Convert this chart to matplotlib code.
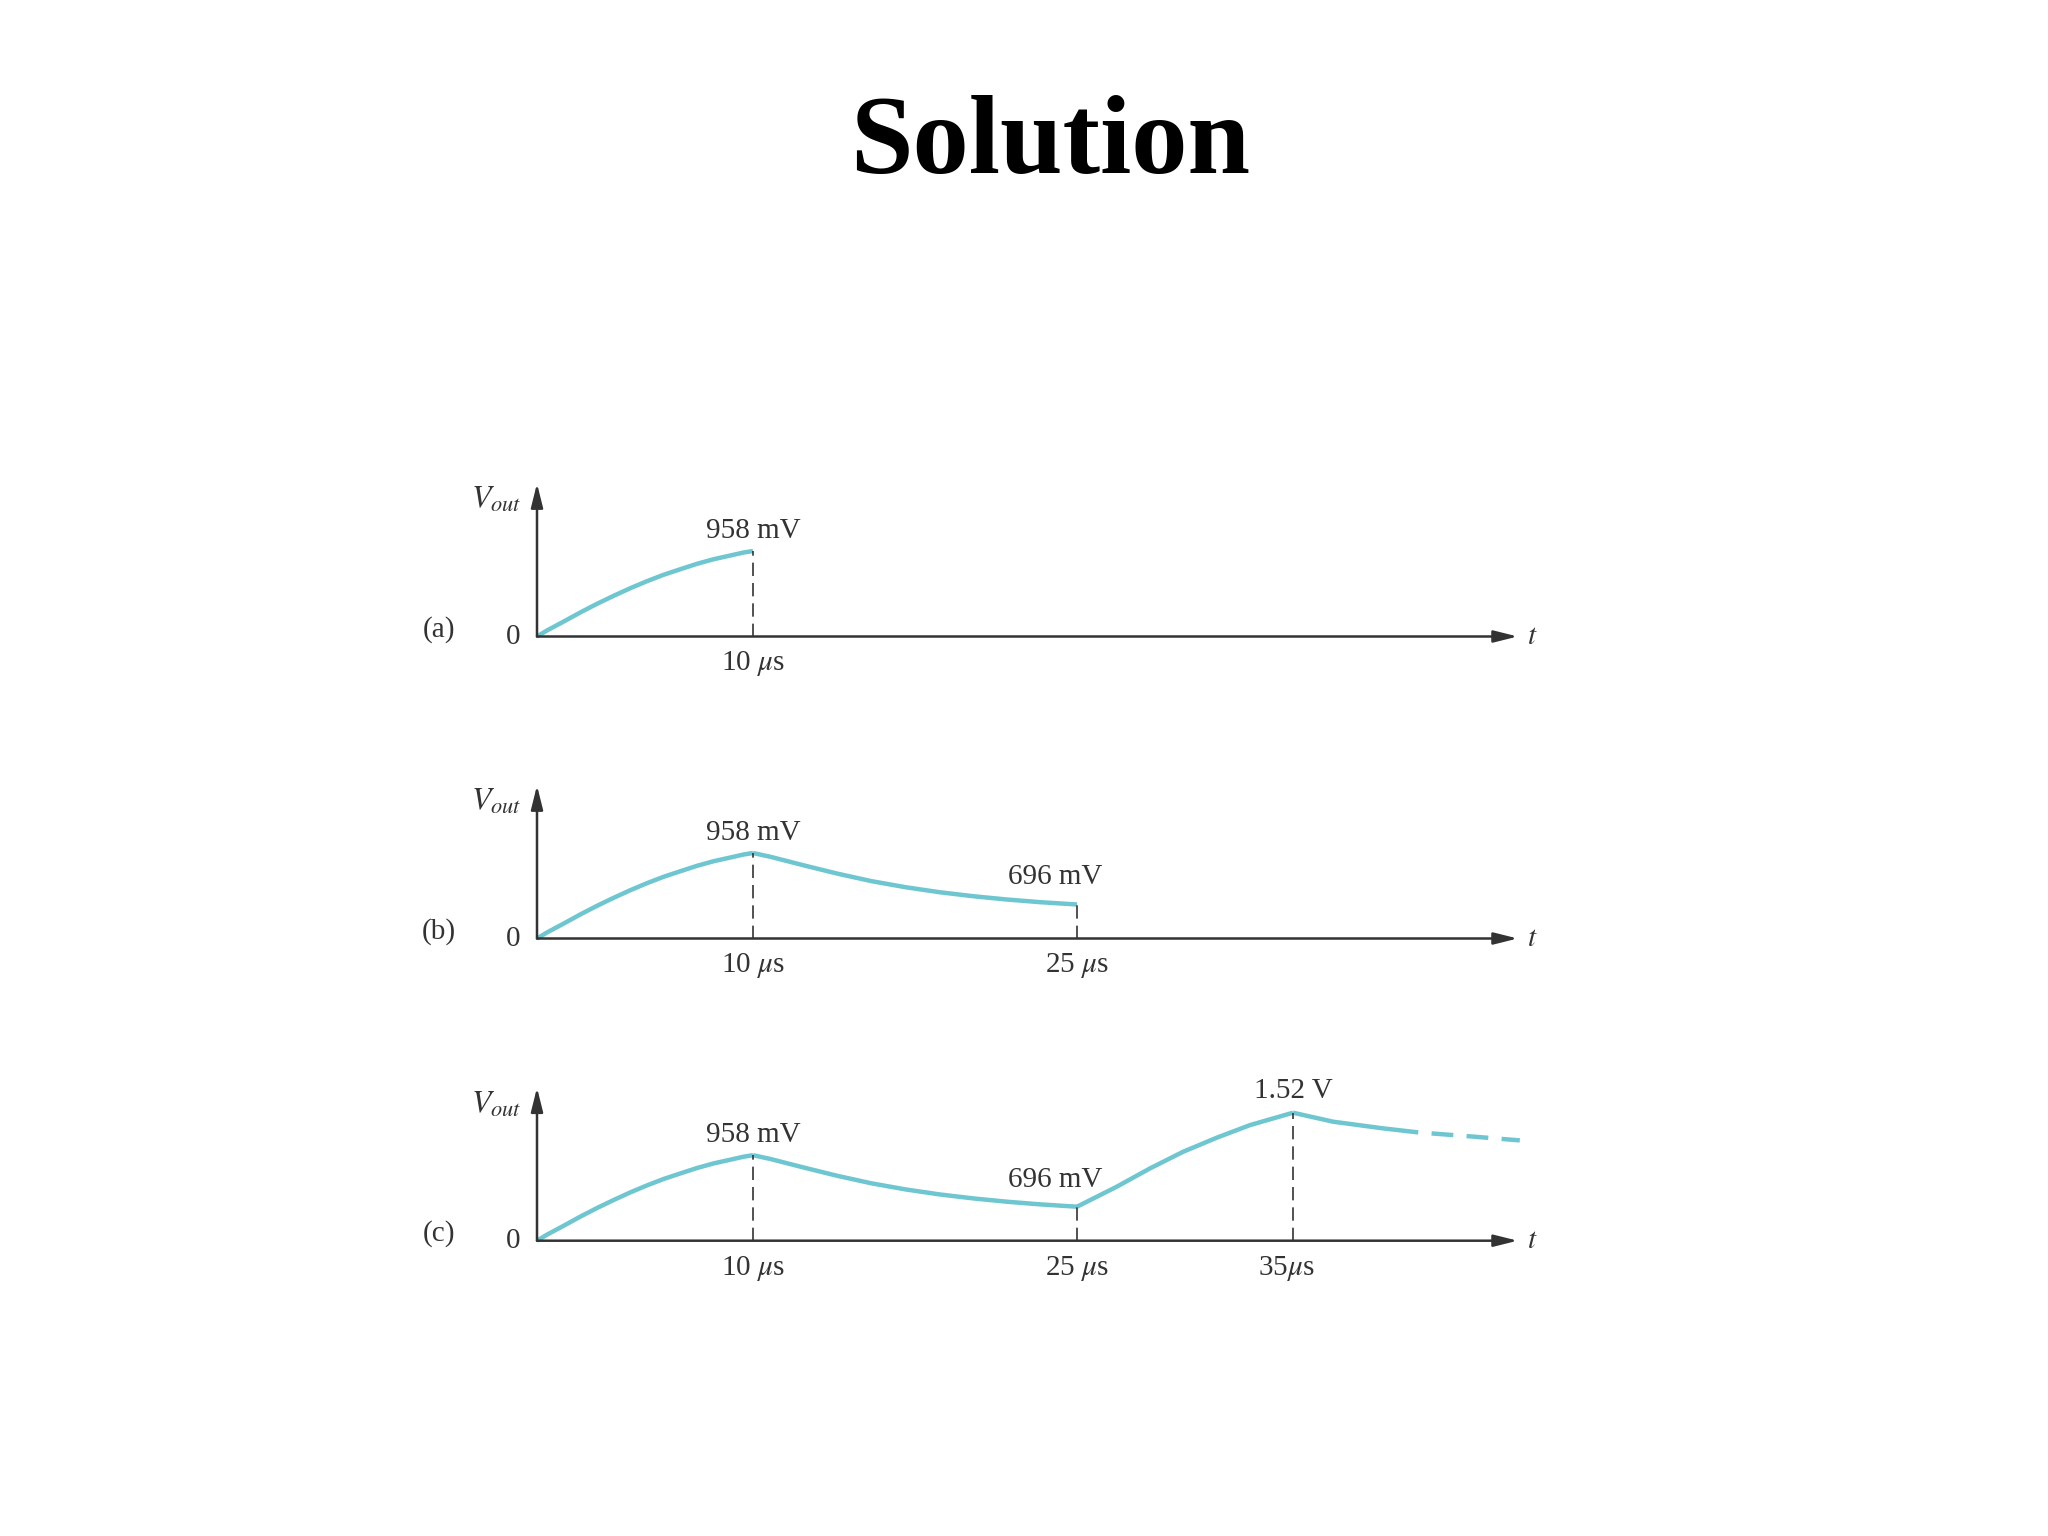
import matplotlib
matplotlib.use("Agg")
import matplotlib.pyplot as plt

plt.rcParams['font.family'] = ['Liberation Serif', 'DejaVu Serif']
plt.rcParams['mathtext.fontset'] = 'stix'

# curve (time in us, height on the sketch's own scale)
t_rise1 = [0, 0.46, 1.24, 2.0, 2.78, 3.55, 4.32, 5.09, 5.86, 6.64, 7.41, 8.18, 8.95, 9.57, 10]
v_rise1 = [0, 0.06, 0.15, 0.24, 0.327, 0.407, 0.483, 0.553, 0.617, 0.673, 0.727, 0.773, 0.81, 0.84, 0.855]
t_fall1 = [10, 10.81, 12.38, 13.94, 15.5, 17.06, 18.63, 20.19, 21.75, 23.31, 25]
v_fall1 = [0.855, 0.817, 0.73, 0.647, 0.573, 0.513, 0.463, 0.423, 0.39, 0.363, 0.34]
t_rise2 = [25, 26.84, 28.38, 29.92, 31.47, 33.01, 35]
v_rise2 = [0.34, 0.54, 0.723, 0.89, 1.03, 1.156, 1.28]
t_fall2 = [35, 36.86, 39.18, 40.8]
v_fall2 = [1.28, 1.19, 1.123, 1.083]
t_tail = [40.8, 43.4, 45.5]
v_tail = [1.083, 1.04, 1.003]

marks_t = [10, 25, 35]
marks_v = [0.855, 0.34, 1.28]
mark_labels = ['958 mV', '696 mV', '1.52 V']
tick_labels = ['10 $\\mu$s', '25 $\\mu$s', '35$\\mu$s']
panel_names = ['(a)', '(b)', '(c)']
panel_marks = [1, 2, 3]          # how many breakpoints each panel shows
baselines = [636.5, 938.5, 1240.7]  # px from top

teal = '#6ec6d0'
dark = '#333333'
W, H = 2048, 1536
x0, xs = 537, 21.6   # px of t=0, px per us
fs = 21

fig = plt.figure(figsize=(20.48, 15.36), dpi=100)
fig.text(1050 / W, 1 - 173 / H, 'Solution', ha='center', va='baseline',
         fontsize=81, fontweight='bold', color='black')

for k in range(3):
    base = baselines[k]
    ax = fig.add_axes([400 / W, (H - (base + 70)) / H, 1200 / W, 260 / H])
    ax.set_xlim((400 - x0) / xs, (1600 - x0) / xs)
    ax.set_ylim(-0.7, 1.9)
    ax.axis('off')

    # axes with arrows
    ax.annotate('', xy=(45.4, 0), xytext=(0, 0),
                arrowprops=dict(arrowstyle='-|>,head_length=0.8,head_width=0.2',
                                color=dark, lw=1.8, mutation_scale=18,
                                shrinkA=0, shrinkB=0))
    ax.annotate('', xy=(0, 1.53), xytext=(0, 0),
                arrowprops=dict(arrowstyle='-|>,head_length=0.8,head_width=0.2',
                                color=dark, lw=1.8, mutation_scale=18,
                                shrinkA=0, shrinkB=0))

    n = panel_marks[k]
    ax.plot(t_rise1, v_rise1, color=teal, lw=3.2, solid_capstyle='butt')
    if n >= 2:
        ax.plot(t_fall1, v_fall1, color=teal, lw=3.2, solid_capstyle='butt')
    if n >= 3:
        ax.plot(t_rise2, v_rise2, color=teal, lw=3.2, solid_capstyle='butt')
        ax.plot(t_fall2, v_fall2, color=teal, lw=3.2, solid_capstyle='butt')
        ax.plot(t_tail, v_tail, color=teal, lw=3.2, dash_capstyle='butt',
                linestyle=(4.9, (4.9, 3.0)))

    for i in range(n):
        t, v = marks_t[i], marks_v[i]
        ax.plot([t, t], [0, v], color=dark, lw=1.2, linestyle=(0, (8, 4.2)))
        ax.text(t - (0.3 if i == 2 else 0), -0.34, tick_labels[i], ha='center',
                va='baseline', fontsize=fs, color=dark)
    # value labels
    ax.text(10, marks_v[0] + 0.13, mark_labels[0], ha='center', va='baseline',
            fontsize=fs, color=dark)
    if n >= 2:
        ax.text(24.0, marks_v[1] + 0.2, mark_labels[1], ha='center',
                va='baseline', fontsize=fs, color=dark)
    if n >= 3:
        ax.text(35, marks_v[2] + 0.15, mark_labels[2], ha='center',
                va='baseline', fontsize=fs, color=dark)

    ax.text(-1.11, 0, '0', ha='center', va='center', fontsize=fs, color=dark)
    ax.text(-4.54, 0.07, panel_names[k], ha='center', va='center',
            fontsize=fs, color=dark)
    ax.text(-1.9, 1.36, '$V_{out}$', ha='center', va='center',
            fontsize=23, color=dark)
    ax.text(46.06, 0, '$t$', ha='center', va='center', fontsize=fs, color=dark)

fig.savefig('out.png', dpi=100, facecolor='white')
